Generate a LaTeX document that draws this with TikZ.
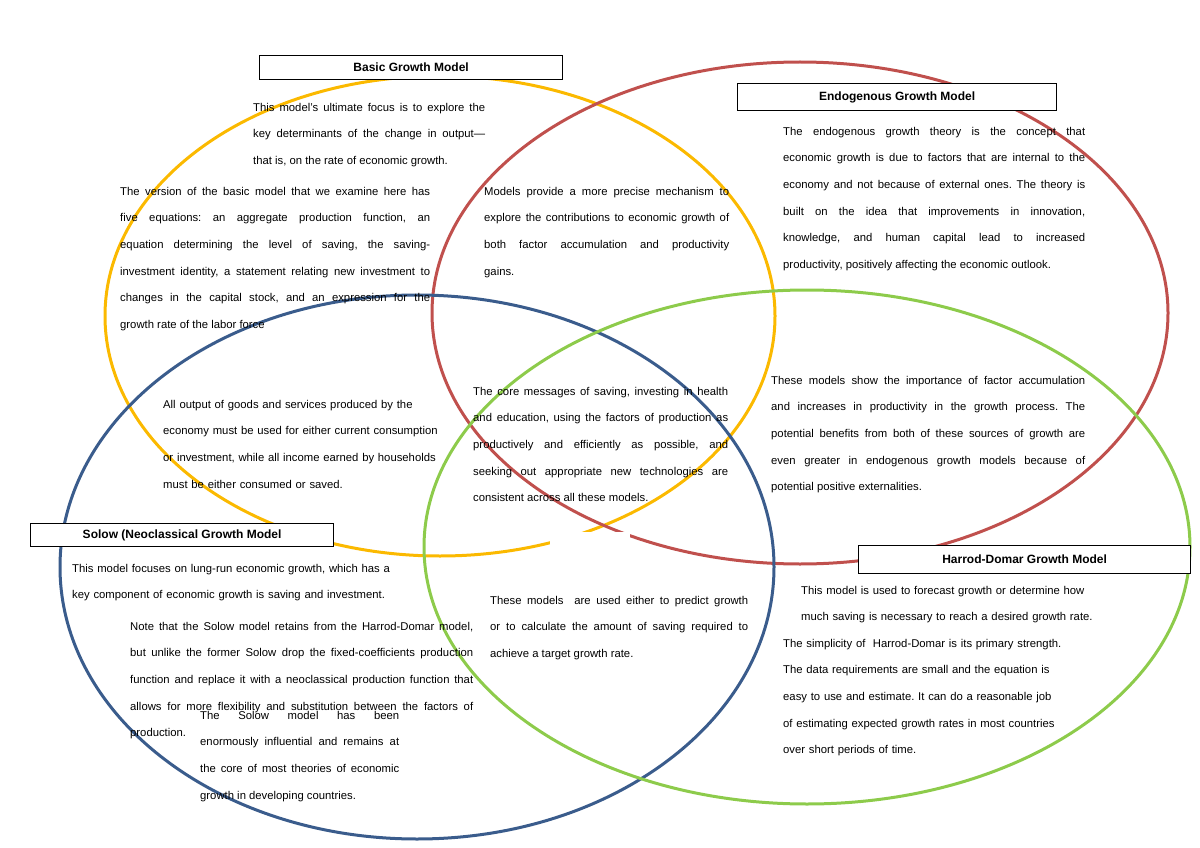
\documentclass[tikz,border=0pt]{standalone}
\usepackage{fontspec}
\setmainfont{Liberation Sans}
\frenchspacing
\definecolor{cy}{HTML}{FBB900}
\definecolor{cr}{HTML}{C0504D}
\definecolor{cb}{HTML}{3A5C8C}
\definecolor{cg}{HTML}{8DCB4B}
\begin{document}
\begin{tikzpicture}[x=1pt,y=-1pt,
  ring/.style={line width=3pt},
  txt/.style={font=\fontsize{11.3}{26.6}\selectfont, align=justify, anchor=north west, inner sep=0pt},
  txtl/.style={txt, align=left},
  ttl/.style={draw=black, line width=1.2pt, font=\fontsize{12}{14}\selectfont\bfseries, inner sep=0pt, anchor=north west, minimum height=24pt, fill=white}]
\useasboundingbox (0,0) rectangle (1200,848);
\draw[ring,cy] (440,316) ellipse [x radius=335, y radius=240];
\draw[ring,cr] (800,313) ellipse [x radius=368, y radius=251];
\draw[ring,cb] (417,567) ellipse [x radius=357, y radius=272];
\draw[ring,cg] (807,547) ellipse [x radius=383, y radius=257];
\fill[white] (550,532) rectangle (630,552);
\node[ttl, minimum width=303pt] (t1) at (259,55) {Basic Growth Model};
\node[ttl, minimum width=319pt, minimum height=27pt] (t2) at (737,83) {Endogenous Growth Model};
\node[ttl, minimum width=303pt, minimum height=23pt] (t3) at (30,523) {Solow (Neoclassical Growth Model};
\node[ttl, minimum width=332pt, minimum height=28pt] (t4) at (858,545) {Harrod-Domar Growth Model};

\node[txt, text width=232pt] (a) at (253,103) {This model's ultimate focus is to explore the\linebreak key determinants of the change in output—\linebreak that is, on the rate of economic growth.};
\node[txt, text width=310pt] (b) at (120,187) {The version of the basic model that we examine here has\linebreak five equations: an aggregate production function, an\linebreak equation determining the level of saving, the saving-\linebreak investment identity, a statement relating new investment to\linebreak changes in the capital stock, and an expression for the\linebreak growth rate of the labor force};
\node[txt, text width=245pt] (c) at (484,187) {Models provide a more precise mechanism to\linebreak explore the contributions to economic growth of\linebreak both factor accumulation and productivity\linebreak gains.};
\node[txt, text width=302pt] (d) at (783,127) {The endogenous growth theory is the concept that\linebreak economic growth is due to factors that are internal to the\linebreak economy and not because of external ones. The theory is\linebreak built on the idea that improvements in innovation,\linebreak knowledge, and human capital lead to increased\linebreak productivity, positively affecting the economic outlook.};
\node[txtl, text width=300pt] (e) at (163,400) {All output of goods and services produced by the\\ economy must be used for either current consumption\\ or investment, while all income earned by households\\ must be either consumed or saved.};
\node[txt, text width=255pt] (f) at (473,387) {The core messages of saving, investing in health\linebreak and education, using the factors of production as\linebreak productively and efficiently as possible, and\linebreak seeking out appropriate new technologies are\linebreak consistent across all these models.};
\node[txt, text width=314pt] (g) at (771,376) {These models show the importance of factor accumulation\linebreak and increases in productivity in the growth process. The\linebreak potential benefits from both of these sources of growth are\linebreak even greater in endogenous growth models because of\linebreak potential positive externalities.};
\node[txtl, text width=340pt] (h) at (72,564) {This model focuses on lung-run economic growth, which has a\\ key component of economic growth is saving and investment.};
\node[txt, text width=343pt] (i) at (130,622) {Note that the Solow model retains from the Harrod-Domar model,\linebreak but unlike the former Solow drop the fixed-coefficients production\linebreak function and replace it with a neoclassical production function that\linebreak allows for more flexibility and substitution between the factors of\linebreak production.};
\node[txt, text width=199pt] (j) at (200,711) {The Solow model has been\linebreak enormously influential and remains at\linebreak the core of most theories of economic\linebreak growth in developing countries.};
\node[txt, text width=258pt] (k) at (490,596) {These models\ \ are used either to predict growth\linebreak or to calculate the amount of saving required to\linebreak achieve a target growth rate.};
\node[txtl, text width=308pt] (l1) at (801,586) {This model is used to forecast growth or determine how\\ much saving is necessary to reach a desired growth rate.};
\begin{scope}
\clip (700,630) rectangle (1150,755);
\node[txtl, text width=310pt] (l2) at (783,639) {The simplicity of\ \ Harrod-Domar is its primary strength.\\ The data requirements are small and the equation is\\ easy to use and estimate. It can do a reasonable job\\ of estimating expected growth rates in most countries\\ over short periods of time.};
\end{scope}
\end{tikzpicture}
\end{document}
